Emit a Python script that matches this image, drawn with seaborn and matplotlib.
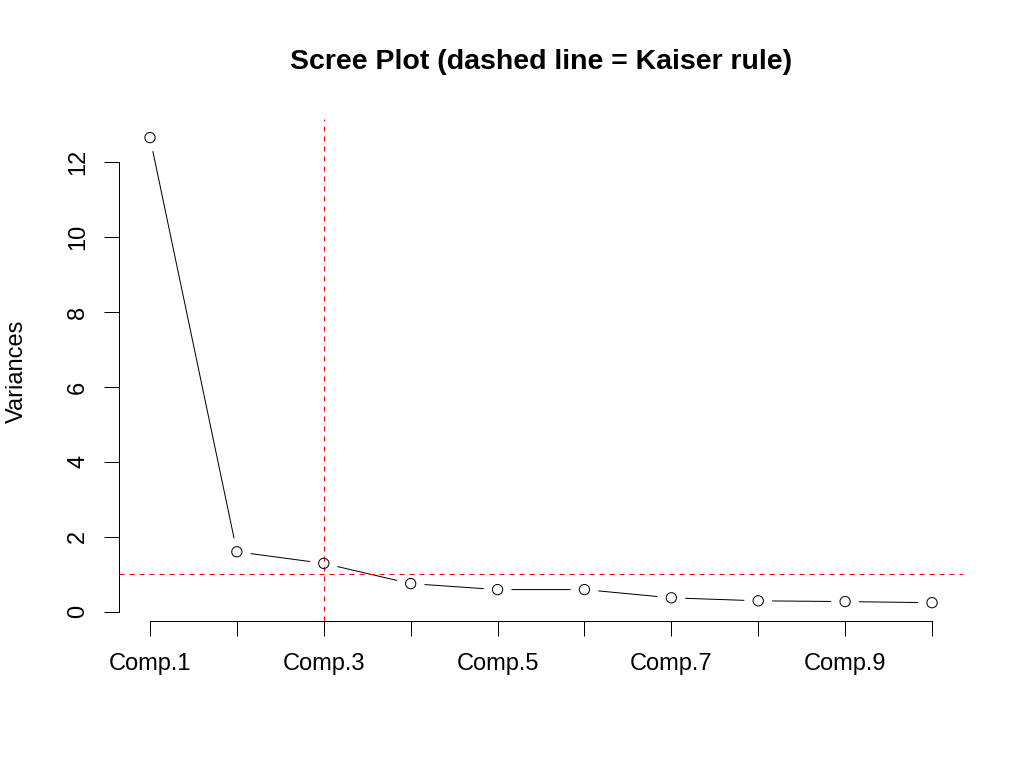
import numpy as np
import pandas as pd
import matplotlib
matplotlib.use("Agg")
import matplotlib.pyplot as plt
import seaborn as sns

# Principal component variances (eigenvalues)
components = ["Comp.1", "Comp.2", "Comp.3", "Comp.4", "Comp.5",
              "Comp.6", "Comp.7", "Comp.8", "Comp.9", "Comp.10"]
variances = [12.66, 1.60, 1.29, 0.75, 0.59, 0.59, 0.37, 0.29, 0.27, 0.24]
y_ticks = [0, 2, 4, 6, 8, 10, 12]
kaiser_level = 1.0
kaiser_component = 3

sns.set_style("white")
plt.rcParams["font.family"] = ["Liberation Sans", "DejaVu Sans"]
plt.rcParams["text.color"] = "black"
plt.rcParams["axes.labelcolor"] = "black"
plt.rcParams["xtick.color"] = "black"
plt.rcParams["ytick.color"] = "black"

df = pd.DataFrame({"pos": np.arange(1, len(components) + 1),
                   "component": components,
                   "variance": variances})

W, H = 1024, 768
fig = plt.figure(figsize=(W / 100, H / 100), dpi=100)
fig.patch.set_facecolor("white")
left, right, top, bottom = 118.7, 963.3, 119.0, 621.3
ax = fig.add_axes([left / W, 1 - bottom / H, (right - left) / W, (bottom - top) / H])
ax.set_facecolor("white")

px = 0.72  # one pixel in points

# connecting line
sns.lineplot(data=df, x="pos", y="variance", ax=ax, color="black",
             linewidth=px, zorder=2, legend=False)
# white discs leave a gap between line and each point
sns.scatterplot(data=df, x="pos", y="variance", ax=ax, s=20 ** 2,
                color="white", edgecolor="none", linewidth=0, zorder=2.5,
                legend=False)
# Kaiser rule reference lines
ax.axhline(kaiser_level, color="red", linewidth=px, linestyle=(0, (5, 5)), zorder=3)
ax.axvline(kaiser_component, color="red", linewidth=px, linestyle=(0, (5, 5)), zorder=3)
# open circle markers
sns.scatterplot(data=df, x="pos", y="variance", ax=ax, s=7.4 ** 2,
                facecolor="none", edgecolor="black", linewidth=px, zorder=4,
                legend=False)

n = len(components)
vmin, vmax = min(variances), max(variances)
ax.set_xlim(1 - 0.04 * (n - 1), n + 0.04 * (n - 1))
ax.set_ylim(vmin - 0.04 * (vmax - vmin), vmax + 0.04 * (vmax - vmin))

ax.set_xticks(df["pos"])
ax.set_xticklabels([c if i % 2 == 0 else "" for i, c in enumerate(components)],
                   fontsize=17)
ax.set_yticks(y_ticks)
ax.set_yticklabels([str(t) for t in y_ticks], fontsize=17, rotation=90, va="center")

for s in ["top", "right"]:
    ax.spines[s].set_visible(False)
ax.spines["left"].set_bounds(y_ticks[0], y_ticks[-1])
ax.spines["bottom"].set_bounds(1, n)
for s in ["left", "bottom"]:
    ax.spines[s].set_linewidth(px)
    ax.spines[s].set_color("black")
ax.tick_params(axis="x", length=10.8, width=px, pad=12, colors="black", direction="out", bottom=True)
ax.tick_params(axis="y", length=10.8, width=px, pad=10.5, colors="black", direction="out", left=True)
ax.set_xlabel("")
ax.set_ylabel("")

fig.text(17 / W, 1 - 371 / H, "Variances", rotation=90, ha="center", va="center",
         fontsize=17, color="black")
fig.text(541 / W, 1 - 62 / H, "Scree Plot (dashed line = Kaiser rule)",
         ha="center", va="center", fontsize=20.5, fontweight="bold", color="black")

fig.savefig("out.png", dpi=100, facecolor="white")
